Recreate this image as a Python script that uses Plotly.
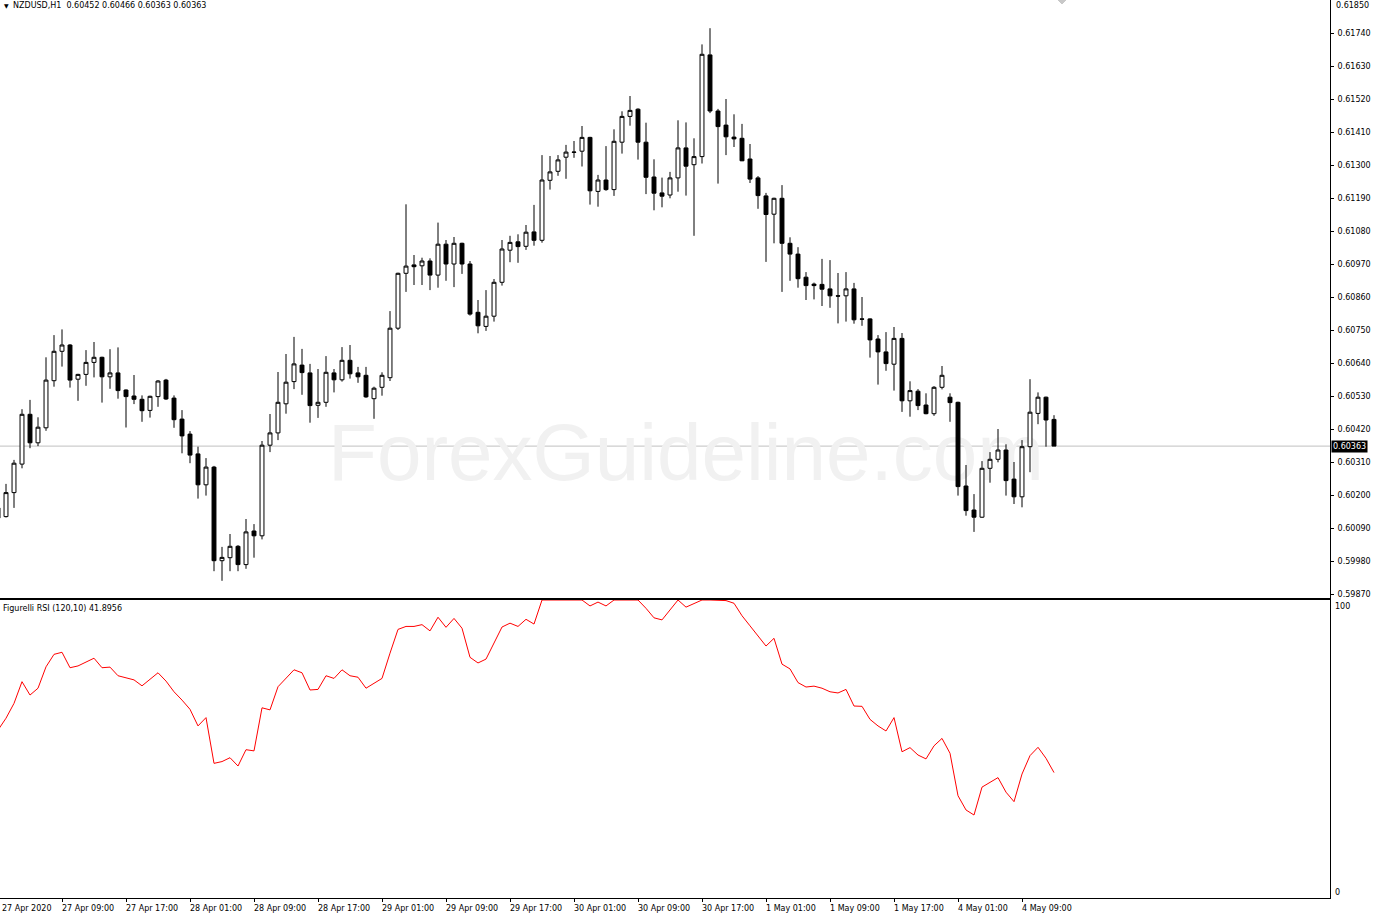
import plotly.graph_objects as go

# bar index (-1 = 27 Apr 01:00, one bar per hour, weekend removed)
bar_idx = list(range(-1, 132))

open_ = [0.60157, 0.60128, 0.60208, 0.60303, 0.60469, 0.60374, 0.60424, 0.60581, 0.60679, 0.60700,
         0.60586, 0.60602, 0.60642, 0.60659, 0.60594, 0.60607, 0.60550, 0.60530, 0.60519, 0.60482,
         0.60528, 0.60583, 0.60523, 0.60453, 0.60403, 0.60337, 0.60234, 0.60293, 0.59981, 0.59991,
         0.60029, 0.59968, 0.60080, 0.60064, 0.60366, 0.60407, 0.60504, 0.60578, 0.60633, 0.60607,
         0.60499, 0.60509, 0.60607, 0.60584, 0.60649, 0.60607, 0.60599, 0.60521, 0.60559, 0.60591,
         0.60756, 0.60939, 0.60967, 0.60964, 0.60980, 0.60933, 0.61036, 0.60970, 0.61039, 0.60970,
         0.60809, 0.60762, 0.60796, 0.60909, 0.61016, 0.61044, 0.61029, 0.61077, 0.61049, 0.61249,
         0.61279, 0.61326, 0.61342, 0.61346, 0.61392, 0.61212, 0.61250, 0.61218, 0.61376, 0.61462,
         0.61486, 0.61376, 0.61260, 0.61207, 0.61200, 0.61257, 0.61357, 0.61301, 0.61328, 0.61667,
         0.61480, 0.61433, 0.61393, 0.61389, 0.61320, 0.61257, 0.61197, 0.61136, 0.61189, 0.61039,
         0.61003, 0.60926, 0.60903, 0.60902, 0.60887, 0.60864, 0.60864, 0.60887, 0.60787, 0.60787,
         0.60720, 0.60677, 0.60636, 0.60722, 0.60514, 0.60546, 0.60500, 0.60471, 0.60559, 0.60526,
         0.60509, 0.60230, 0.60150, 0.60126, 0.60289, 0.60319, 0.60350, 0.60253, 0.60194, 0.60361,
         0.60472, 0.60526, 0.60452]

high = [0.60173, 0.60237, 0.60317, 0.60486, 0.60517, 0.60459, 0.60659, 0.60733, 0.60752, 0.60703,
        0.60604, 0.60683, 0.60710, 0.60661, 0.60686, 0.60692, 0.60552, 0.60600, 0.60532, 0.60531,
        0.60583, 0.60587, 0.60532, 0.60483, 0.60413, 0.60361, 0.60323, 0.60297, 0.60027, 0.60070,
        0.60033, 0.60120, 0.60103, 0.60380, 0.60470, 0.60610, 0.60670, 0.60727, 0.60687, 0.60637,
        0.60620, 0.60663, 0.60620, 0.60693, 0.60700, 0.60627, 0.60627, 0.60561, 0.60609, 0.60813,
        0.60941, 0.61169, 0.61000, 0.60991, 0.60989, 0.61108, 0.61050, 0.61060, 0.61041, 0.60980,
        0.60850, 0.60883, 0.60920, 0.61050, 0.61064, 0.61069, 0.61100, 0.61167, 0.61333, 0.61330,
        0.61333, 0.61367, 0.61380, 0.61430, 0.61394, 0.61267, 0.61363, 0.61419, 0.61479, 0.61530,
        0.61489, 0.61441, 0.61319, 0.61258, 0.61277, 0.61449, 0.61442, 0.61389, 0.61702, 0.61756,
        0.61487, 0.61520, 0.61469, 0.61437, 0.61370, 0.61263, 0.61207, 0.61191, 0.61233, 0.61059,
        0.61026, 0.60943, 0.60908, 0.60987, 0.60983, 0.60940, 0.60943, 0.60907, 0.60860, 0.60789,
        0.60733, 0.60743, 0.60760, 0.60740, 0.60579, 0.60553, 0.60539, 0.60563, 0.60630, 0.60539,
        0.60511, 0.60300, 0.60203, 0.60313, 0.60343, 0.60420, 0.60369, 0.60310, 0.60383, 0.60586,
        0.60542, 0.60528, 0.60466]

low = [0.60110, 0.60125, 0.60157, 0.60289, 0.60356, 0.60363, 0.60414, 0.60561, 0.60628, 0.60558,
       0.60514, 0.60564, 0.60592, 0.60508, 0.60554, 0.60521, 0.60425, 0.60503, 0.60444, 0.60458,
       0.60494, 0.60517, 0.60424, 0.60339, 0.60306, 0.60188, 0.60198, 0.59946, 0.59914, 0.59946,
       0.59946, 0.59954, 0.59991, 0.60052, 0.60343, 0.60383, 0.60471, 0.60553, 0.60534, 0.60441,
       0.60457, 0.60494, 0.60542, 0.60578, 0.60588, 0.60574, 0.60524, 0.60454, 0.60531, 0.60580,
       0.60750, 0.60877, 0.60900, 0.60900, 0.60883, 0.60891, 0.60914, 0.60893, 0.60937, 0.60798,
       0.60739, 0.60747, 0.60778, 0.60898, 0.60976, 0.60974, 0.61017, 0.61031, 0.61041, 0.61218,
       0.61264, 0.61254, 0.61324, 0.61295, 0.61168, 0.61161, 0.61214, 0.61197, 0.61338, 0.61431,
       0.61318, 0.61203, 0.61149, 0.61159, 0.61189, 0.61211, 0.61198, 0.61064, 0.61305, 0.61473,
       0.61238, 0.61333, 0.61360, 0.61313, 0.61240, 0.61154, 0.60977, 0.61039, 0.60877, 0.60914,
       0.60891, 0.60850, 0.60852, 0.60830, 0.60824, 0.60772, 0.60778, 0.60771, 0.60764, 0.60658,
       0.60568, 0.60614, 0.60548, 0.60477, 0.60461, 0.60483, 0.60469, 0.60464, 0.60552, 0.60444,
       0.60198, 0.60131, 0.60077, 0.60124, 0.60241, 0.60309, 0.60198, 0.60170, 0.60159, 0.60276,
       0.60436, 0.60361, 0.60363]

close = [0.60123, 0.60208, 0.60306, 0.60469, 0.60374, 0.60426, 0.60583, 0.60679, 0.60700, 0.60583,
         0.60602, 0.60642, 0.60659, 0.60594, 0.60607, 0.60548, 0.60528, 0.60519, 0.60481, 0.60529,
         0.60580, 0.60520, 0.60451, 0.60397, 0.60333, 0.60234, 0.60293, 0.59981, 0.59992, 0.60029,
         0.59968, 0.60077, 0.60064, 0.60366, 0.60407, 0.60509, 0.60576, 0.60637, 0.60608, 0.60498,
         0.60509, 0.60609, 0.60584, 0.60649, 0.60604, 0.60594, 0.60527, 0.60556, 0.60599, 0.60756,
         0.60939, 0.60963, 0.60961, 0.60980, 0.60933, 0.61036, 0.60970, 0.61039, 0.60970, 0.60803,
         0.60764, 0.60796, 0.60909, 0.61020, 0.61042, 0.61028, 0.61076, 0.61049, 0.61250, 0.61277,
         0.61317, 0.61343, 0.61343, 0.61392, 0.61214, 0.61250, 0.61218, 0.61379, 0.61462, 0.61482,
         0.61376, 0.61259, 0.61206, 0.61196, 0.61257, 0.61357, 0.61296, 0.61328, 0.61669, 0.61480,
         0.61428, 0.61394, 0.61387, 0.61314, 0.61253, 0.61198, 0.61135, 0.61189, 0.61039, 0.61003,
         0.60921, 0.60898, 0.60898, 0.60886, 0.60864, 0.60863, 0.60887, 0.60784, 0.60786, 0.60717,
         0.60677, 0.60638, 0.60722, 0.60514, 0.60548, 0.60498, 0.60471, 0.60559, 0.60599, 0.60508,
         0.60228, 0.60148, 0.60126, 0.60289, 0.60319, 0.60350, 0.60248, 0.60194, 0.60361, 0.60476,
         0.60526, 0.60450, 0.60363]

rsi = [56.2, 60.2, 65.2, 72.5, 68.0, 70.3, 77.5, 81.7, 82.4, 77.2,
       77.8, 79.2, 80.4, 77.2, 77.4, 74.5, 73.8, 73.1, 71.1, 73.3,
       75.5, 72.7, 69.1, 66.3, 63.2, 57.6, 60.4, 45.0, 45.6, 46.9,
       44.1, 49.6, 49.2, 63.7, 63.0, 70.8, 73.8, 76.5, 75.5, 69.7,
       69.9, 74.5, 73.6, 76.5, 74.5, 74.0, 70.3, 72.0, 73.6, 82.1,
       90.1, 91.1, 91.1, 91.7, 89.6, 94.2, 90.8, 93.8, 90.5, 80.7,
       78.8, 80.1, 85.6, 90.9, 92.2, 91.1, 93.5, 91.9, 100.0, 100.0,
       100.0, 100.0, 100.0, 100.0, 98.0, 99.3, 98.0, 100.0, 100.0, 100.0,
       100.0, 97.2, 94.0, 93.3, 96.6, 100.0, 97.6, 98.9, 100.0, 100.0,
       100.0, 99.8, 98.9, 94.7, 91.3, 88.0, 84.5, 87.1, 78.4, 76.8,
       72.2, 70.7, 71.0, 70.3, 69.1, 68.7, 69.9, 64.3, 64.2, 59.8,
       57.6, 55.9, 60.4, 48.9, 50.3, 47.8, 46.5, 50.9, 53.4, 48.4,
       34.1, 29.3, 27.6, 37.0, 38.6, 40.2, 35.3, 32.1, 41.4, 47.6,
       50.4, 46.7, 41.8956]

price_ticks = [0.61850, 0.61740, 0.61630, 0.61520, 0.61410, 0.61300, 0.61190, 0.61080, 0.60970,
               0.60860, 0.60750, 0.60640, 0.60530, 0.60420, 0.60310, 0.60200, 0.60090, 0.59980, 0.59870]

time_label_idx = [-1, 7, 15, 23, 31, 39, 47, 55, 63, 71, 79, 87, 95, 103, 111, 119, 127]
time_labels = ["27 Apr 2020", "27 Apr 09:00", "27 Apr 17:00", "28 Apr 01:00", "28 Apr 09:00",
               "28 Apr 17:00", "29 Apr 01:00", "29 Apr 09:00", "29 Apr 17:00", "30 Apr 01:00",
               "30 Apr 09:00", "30 Apr 17:00", "1 May 01:00", "1 May 09:00", "1 May 17:00",
               "4 May 01:00", "4 May 09:00"]

last_price = 0.60363
header = "NZDUSD,H1\u00a0\u00a00.60452 0.60466 0.60363 0.60363"
rsi_title = "Figurelli RSI (120,10) 41.8956"
watermark = "ForexGuideline.com"

FONT = "DejaVu Sans"
W, H = 1376, 918
ML, MR, MT, MB = 0, 46, 0, 20
plot_h = H - MT - MB
plot_w = W - ML - MR
main_bottom_px = 597.5
sub_top_px = 599.5
main_dom = [(plot_h - main_bottom_px) / plot_h, 1.0]
sub_dom = [0.0, (plot_h - sub_top_px) / plot_h]

px_per_price = 30000.0
y_top = price_ticks[0]
y_bot = y_top - main_bottom_px / px_per_price
x_range = [-0.75, 165.5]
rsi_px = 297.0
rsi_range = [-1.0 * 100 / rsi_px, 100 + 0.5 * 100 / rsi_px]

fig = go.Figure()

# watermark below candles (base axes, candles on overlaying axis)
fig.add_trace(go.Scatter(
    x=[85], y=[0.60317], mode="text", text=[watermark],
    textfont=dict(family="Liberation Sans", size=80, color="#f1f1f1"),
    xaxis="x", yaxis="y", hoverinfo="skip", showlegend=False))

fig.add_trace(go.Candlestick(
    x=bar_idx, open=open_, high=high, low=low, close=close,
    increasing=dict(fillcolor="white", line=dict(color="black", width=1)),
    decreasing=dict(fillcolor="black", line=dict(color="black", width=1)),
    whiskerwidth=0, xaxis="x", yaxis="y3", showlegend=False, hoverinfo="skip"))

fig.add_trace(go.Scatter(
    x=bar_idx, y=rsi, mode="lines", line=dict(color="#ff0000", width=1),
    xaxis="x2", yaxis="y2", showlegend=False, hoverinfo="skip"))

tickfont = dict(family=FONT, size=8, color="black")

fig.update_layout(
    width=W, height=H,
    margin=dict(l=ML, r=MR, t=MT, b=MB, pad=0),
    paper_bgcolor="white", plot_bgcolor="white",
    showlegend=False,
    xaxis=dict(domain=[0, 1], anchor="y", range=x_range, showgrid=False, zeroline=False,
               showticklabels=False, showline=True, linecolor="black", linewidth=1,
               rangeslider=dict(visible=False), ticks=""),
    yaxis=dict(domain=main_dom, anchor="x", range=[y_bot, y_top], side="right",
               showgrid=False, zeroline=False, showline=True, linecolor="black", linewidth=1,
               ticks="outside", ticklen=3, tickcolor="black", tickwidth=1,
               tickvals=price_ticks[1:], ticktext=["%.5f" % v for v in price_ticks[1:]],
               tickfont=tickfont, ticklabelstandoff=2),
    yaxis3=dict(overlaying="y", anchor="x", range=[y_bot, y_top], side="right",
                showgrid=False, zeroline=False, showline=False, showticklabels=False, ticks=""),
    xaxis2=dict(domain=[0, 1], anchor="y2", range=x_range, showgrid=False, zeroline=False,
                showline=True, mirror=True, linecolor="black", linewidth=1,
                ticks="outside", ticklen=3, tickcolor="black",
                tickvals=time_label_idx, showticklabels=False),
    yaxis2=dict(domain=sub_dom, anchor="x2", range=rsi_range, side="right",
                showgrid=False, zeroline=False, showline=True, linecolor="black", linewidth=1,
                showticklabels=False, ticks=""),
)

# current price line
fig.add_shape(type="line", xref="paper", yref="y", x0=0, x1=1, y0=last_price, y1=last_price,
              line=dict(color="#c0c0c0", width=1), layer="below")
# chart-shift marker at the top edge
mx = 1062 / plot_w
dx = 4 / plot_w
dy = 4 / plot_h
fig.add_shape(type="path", xref="paper", yref="paper",
              path=f"M {mx - dx},1 L {mx + dx},1 L {mx},{1 - dy} Z",
              fillcolor="#c8c8c8", line=dict(color="#c8c8c8", width=1))

ann = []
for i, t in zip(time_label_idx, time_labels):
    if i < x_range[0]:
        ann.append(dict(x=0, xref="paper", y=0, yref="paper", text=t, showarrow=False,
                        xanchor="left", yanchor="top", xshift=0, yshift=-4, font=tickfont))
    else:
        ann.append(dict(x=i, xref="x2", y=0, yref="paper", text=t, showarrow=False,
                        xanchor="left", yanchor="top", xshift=-2, yshift=-4,
                        font=tickfont))
# top price label at the window edge
ann.append(dict(x=1, xref="paper", y=1, yref="paper", text="%.5f" % price_ticks[0],
                showarrow=False, xanchor="left", yanchor="top", xshift=4, yshift=1,
                font=tickfont))
ann.append(dict(x=1, xref="paper", y=last_price, yref="y", text="%.5f" % last_price,
                showarrow=False, xanchor="left", yanchor="middle", xshift=1,
                bgcolor="black", font=dict(family=FONT, size=8, color="white"), borderpad=1))
ann.append(dict(x=1, xref="paper", y=100, yref="y2", text="100", showarrow=False,
                xanchor="left", yanchor="top", xshift=3, font=tickfont))
ann.append(dict(x=1, xref="paper", y=0, yref="y2", text="0", showarrow=False,
                xanchor="left", yanchor="bottom", xshift=3, yshift=-2, font=tickfont))
ann.append(dict(x=0, xref="paper", y=1, yref="paper", text=header, showarrow=False,
                xanchor="left", yanchor="top", xshift=11, yshift=1, font=tickfont))
ann.append(dict(x=0, xref="paper", y=1, yref="paper", text="\u25bc", showarrow=False,
                xanchor="left", yanchor="top", xshift=2, yshift=0,
                font=dict(family=FONT, size=6, color="black")))
ann.append(dict(x=0, xref="paper", y=sub_dom[1], yref="paper", text=rsi_title, showarrow=False,
                xanchor="left", yanchor="top", xshift=1, yshift=-2, font=tickfont))
fig.update_layout(annotations=ann)

fig.write_html("out.html", config={"displayModeBar": False},
               post_script="document.body.style.margin='0';")
